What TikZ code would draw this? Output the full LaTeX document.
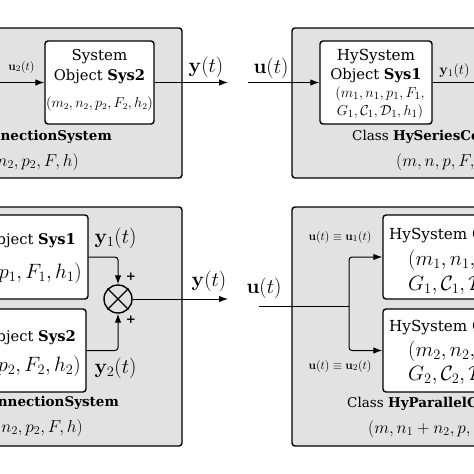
\documentclass[tikz,border=0pt]{standalone}
\usepackage{amsmath}
\usepackage[no-math]{fontspec}
\setmainfont{DejaVu Serif}
\usepackage[table]{xcolor}
\usepackage{tikz}
\usetikzlibrary{arrows.meta,positioning}
\definecolor{panelgray}{gray}{0.885}
\newcommand{\fsz}[1]{\fontsize{#1}{#1}\selectfont}

\begin{document}
\begin{tikzpicture}[x=1pt,y=-1pt,
  panel/.style={draw,line width=1.4pt,rounded corners=3pt,fill=panelgray},
  sysbox/.style={draw,line width=1.4pt,rounded corners=3pt,fill=white},
  sig/.style={line width=1pt,-{Latex[length=9pt,width=6.5pt]}},
  txt/.style={inner sep=0pt}]
\useasboundingbox (0,0) rectangle (474,474);
\clip (0,0) rectangle (474,474);

% series, second stage
\draw[panel] (-100,28) rectangle (182,178);
\node[sysbox,minimum width=109pt,minimum height=83pt] (sysA) at (99.5,82.5) {};
\node[txt,font=\fsz{15}] (sysAname) at (99.5,57) {System};
\node[txt,font=\fsz{14.7}] (sysAobj) at (99.5,77) {Object \textbf{Sys2}};
\node[txt,font=\fsz{13.3}] (sysApar) at (99.5,104) {$(m_2,n_2,p_2,F_2,h_2)$};
\coordinate (inA) at (0,82.5);
\coordinate (outA) at (228,82.5);
\draw[sig] (inA) -- (sysA.west);
\draw[sig] (sysA.east) -- (outA);
\node[txt,font=\fsz{13}] (uA) at (21.5,67) {$\mathbf{u}_2(t)$};
\node[txt,font=\fsz{19.5}] (yA) at (206,67) {$\mathbf{y}(t)$};
\node[txt,font=\fsz{13.5},anchor=east] (clsA) at (112,137) {Class \textbf{SeriesConnectionSystem}};
\node[txt,font=\fsz{18.5},anchor=east] (parA) at (79,162) {$(m_1,n_1+n_2,p_2,F,h)$};

% series, hybrid
\draw[panel] (292,28) rectangle (600,178);
\node[sysbox,minimum width=112pt,minimum height=83pt] (sysB) at (376,82.5) {};
\node[txt,font=\fsz{15.2}] (sysBname) at (376,57) {HySystem};
\node[txt,font=\fsz{14.7}] (sysBobj) at (376,76) {Object \textbf{Sys1}};
\node[txt,font=\fsz{15}] (sysBpar) at (380,94) {$(m_1,n_1,p_1,F_1,$};
\node[txt,font=\fsz{15}] (sysBpar2) at (380,112) {$G_1,\mathcal{C}_1,\mathcal{D}_1,h_1)$};
\coordinate (inB) at (248,82.5);
\coordinate (outB) at (520,82.5);
\draw[sig] (inB) -- (sysB.west);
\draw[line width=1pt] (sysB.east) -- (outB);
\node[txt,font=\fsz{21}] (uB) at (271,68) {$\mathbf{u}(t)$};
\node[txt,font=\fsz{14.5}] (yB) at (454.5,71) {$\mathbf{y}_1(t)$};
\node[txt,font=\fsz{13.5},anchor=west] (clsB) at (352,137) {Class \textbf{HySeriesConnectionSystem}};
\node[txt,font=\fsz{18},anchor=west] (parB) at (396,162) {$(m,n,p,F,G,\mathcal{C},\mathcal{D},h)$};

% parallel
\draw[panel] (-100,207) rectangle (182,446);
\node[sysbox,minimum width=188pt,minimum height=84pt] (sysC) at (-6,257) {};
\node[sysbox,minimum width=186pt,minimum height=83pt] (sysD) at (-7,350.5) {};
\node[txt,font=\fsz{14.7},anchor=east] (sysCobj) at (76,241) {System Object \textbf{Sys1}};
\node[txt,font=\fsz{21},anchor=east] (sysCpar) at (82,273) {$(m_1,n_1,p_1,F_1,h_1)$};
\node[txt,font=\fsz{14.7},anchor=east] (sysDobj) at (76,338) {System Object \textbf{Sys2}};
\node[txt,font=\fsz{21},anchor=east] (sysDpar) at (81,366) {$(m_2,n_2,p_2,F_2,h_2)$};
\node[draw,circle,line width=1.4pt,minimum size=28pt,inner sep=0pt] (sum) at (118,299) {};
\draw[line width=1.4pt] (sum.45) -- (sum.225) (sum.135) -- (sum.315);
\draw[sig,rounded corners=3pt] (sysC.east) -| (sum.north);
\draw[sig,rounded corners=3pt] (sysD.east) -| (sum.south);
\coordinate (outC) at (228,299);
\draw[sig] (sum.east) -- (outC);
\node[txt,font=\fsz{12}\bfseries] (plusC) at (131,277) {+};
\node[txt,font=\fsz{12}\bfseries] (plusD) at (131,320) {+};
\node[txt,font=\fsz{20}] (yC) at (115.5,238) {$\mathbf{y}_1(t)$};
\node[txt,font=\fsz{20}] (yD) at (115.5,368) {$\mathbf{y}_2(t)$};
\node[txt,font=\fsz{19.5}] (yOut) at (209,281) {$\mathbf{y}(t)$};
\node[txt,font=\fsz{13.5},anchor=east] (clsC) at (119,403) {Class \textbf{ParallelConnectionSystem}};
\node[txt,font=\fsz{18.5},anchor=east] (parC) at (83,428) {$(m_1,n_1+n_2,p_2,F,h)$};

% parallel, hybrid
\draw[panel] (292,207) rectangle (600,446);
\node[sysbox,minimum width=194pt,minimum height=84pt] (sysE) at (480,257) {};
\node[sysbox,minimum width=194pt,minimum height=83pt] (sysF) at (480,350.5) {};
\node[txt,font=\fsz{15.2},anchor=west] (sysEobj) at (389,235) {HySystem Object \textbf{Sys1}};
\node[txt,font=\fsz{20},anchor=west] (sysEpar) at (408,260) {$(m_1,n_1,p_1,F_1,$};
\node[txt,font=\fsz{20},anchor=west] (sysEpar2) at (408,285) {$G_1,\mathcal{C}_1,\mathcal{D}_1,h_1)$};
\node[txt,font=\fsz{15.2},anchor=west] (sysFobj) at (389,327) {HySystem Object \textbf{Sys2}};
\node[txt,font=\fsz{20},anchor=west] (sysFpar) at (408,351) {$(m_2,n_2,p_2,F_2,$};
\node[txt,font=\fsz{20},anchor=west] (sysFpar2) at (408,375) {$G_2,\mathcal{C}_2,\mathcal{D}_2,h_2)$};
\coordinate (inE) at (259,306);
\coordinate (split) at (349,306);
\draw[line width=1pt] (inE) -- (split);
\draw[sig,rounded corners=3pt] (split) |- (sysE.west);
\draw[sig,rounded corners=3pt] (split) |- (sysF.west);
\node[txt,font=\fsz{21}] (uE) at (264,288) {$\mathbf{u}(t)$};
\node[txt,font=\fsz{13}] (uE1) at (340,237) {$\mathbf{u}(t)\equiv\mathbf{u}_1(t)$};
\node[txt,font=\fsz{13}] (uE2) at (340,366) {$\mathbf{u}(t)\equiv\mathbf{u}_2(t)$};
\node[txt,font=\fsz{13.5},anchor=west] (clsE) at (347,404) {Class \textbf{HyParallelConnectionSystem}};
\node[txt,font=\fsz{18},anchor=west] (parE) at (368,429) {$(m,n_1+n_2,p,F,G,\mathcal{C},\mathcal{D},h)$};
\end{tikzpicture}
\end{document}
